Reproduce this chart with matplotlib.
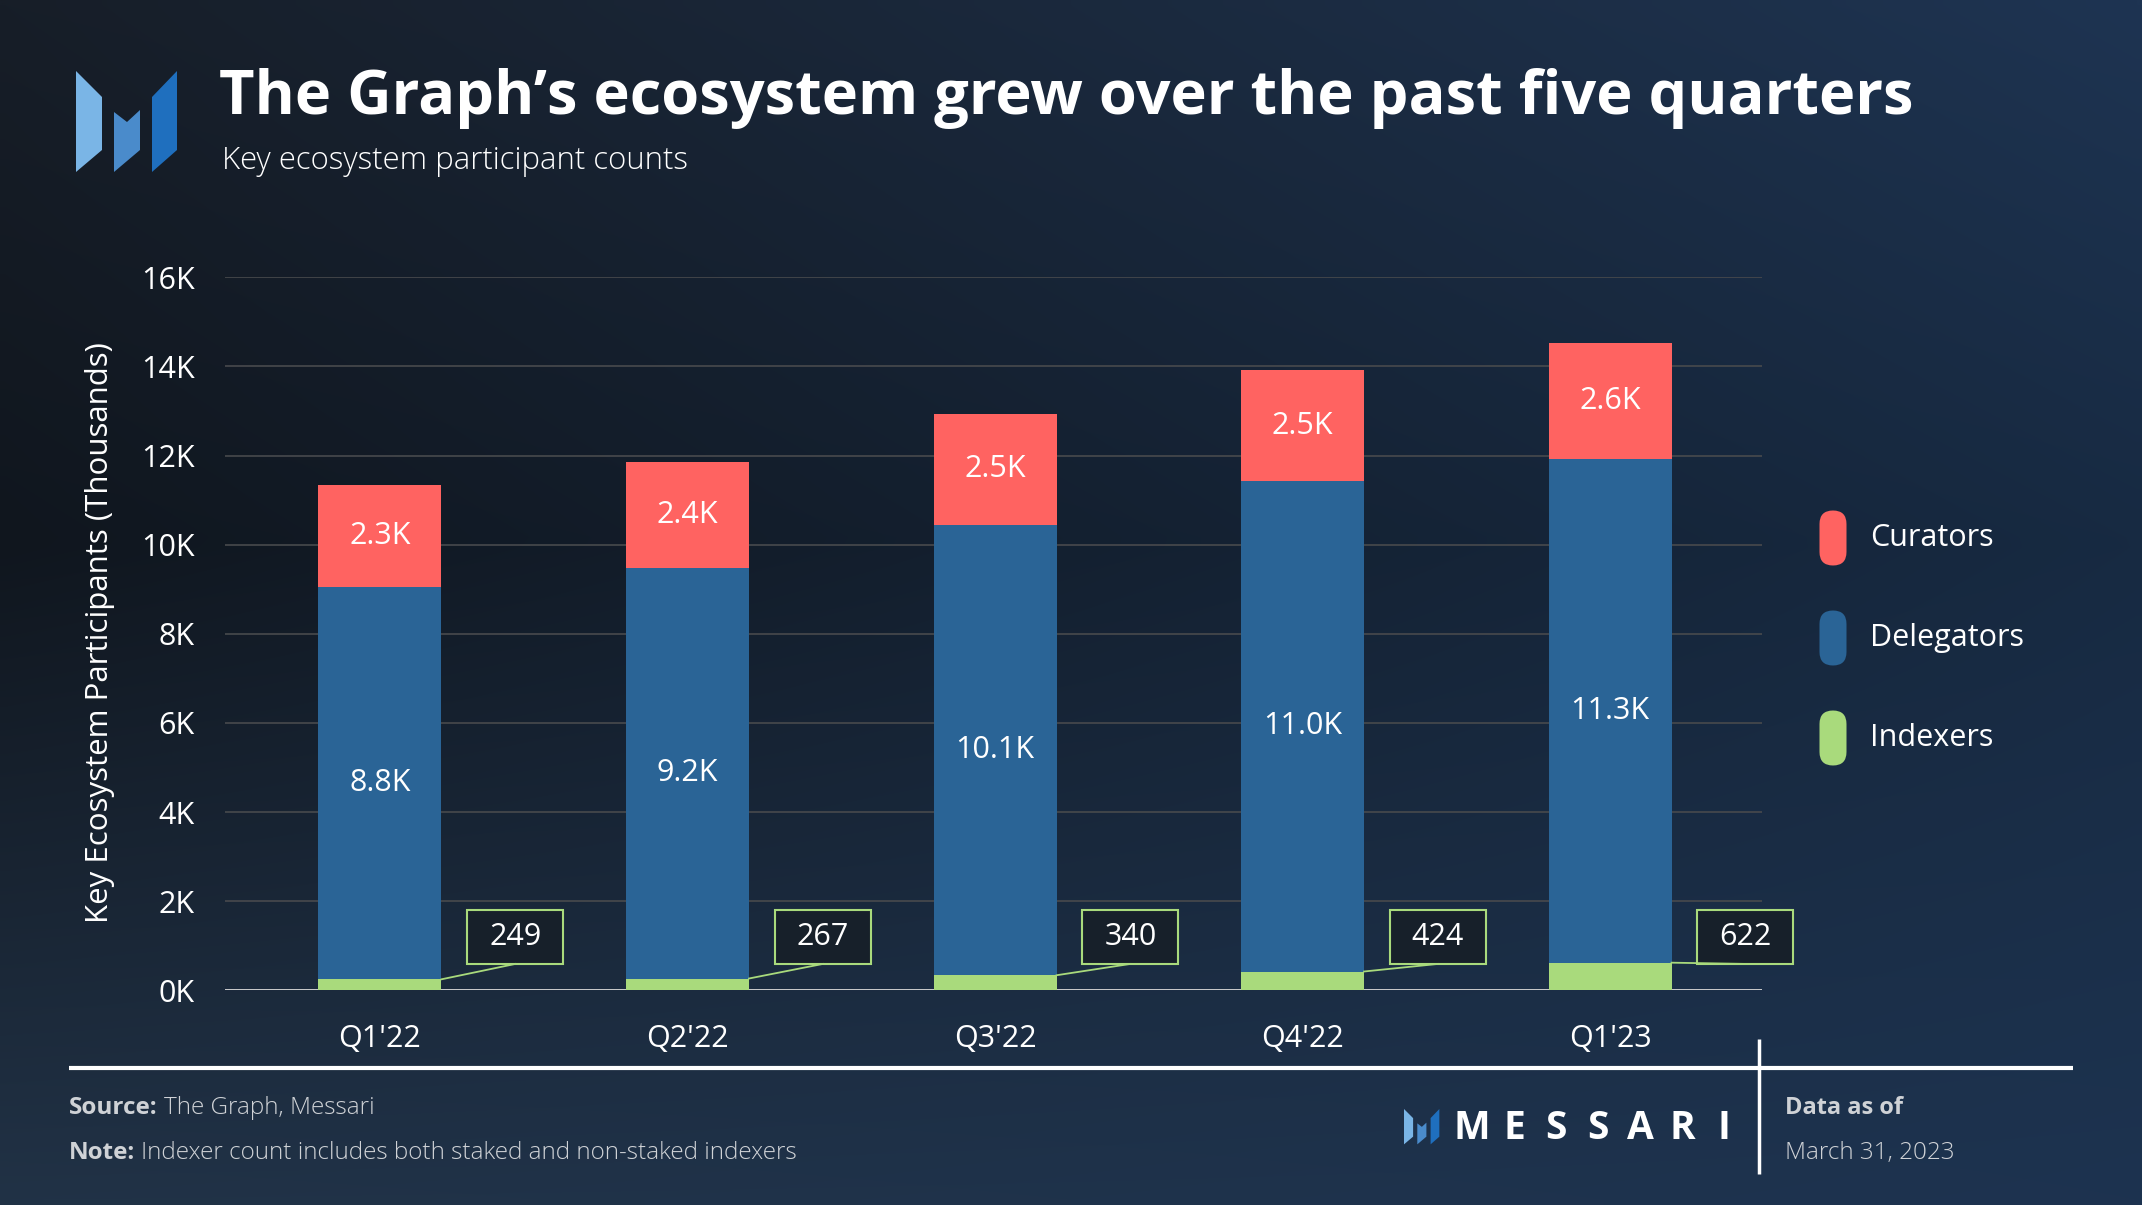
import matplotlib
matplotlib.use("Agg")
import matplotlib.pyplot as plt
import numpy as np
from matplotlib.patches import Polygon, Rectangle, FancyBboxPatch
from matplotlib.colors import to_rgb

# data
quarters = ["Q1'22", "Q2'22", "Q3'22", "Q4'22", "Q1'23"]
indexers = [249, 267, 340, 424, 622]
delegators = [8800, 9200, 10100, 11000, 11300]
curators = [2300, 2400, 2500, 2500, 2600]
yticks = [0, 2000, 4000, 6000, 8000, 10000, 12000, 14000, 16000]
series_names = ["Curators", "Delegators", "Indexers"]

RED = "#ff6361"
BLUE = "#2a6496"
GREEN = "#a9da7c"
FONT = "Open Sans"

W, H = 2142, 1205
fig = plt.figure(figsize=(W / 100, H / 100), dpi=100)

# background gradient
bg = fig.add_axes([0, 0, 1, 1], zorder=-10)
left_col = [to_rgb(c) for c in ["#171e28", "#10161e", "#213246"]]
right_col = [to_rgb(c) for c in ["#1e3452", "#172a42", "#1d3350"]]
ystops = [0, 0.45, 1]
ny, nx = 120, 200
yy = np.linspace(0, 1, ny)
img = np.zeros((ny, nx, 3))
for ch in range(3):
    lc = np.interp(yy, ystops, [c[ch] for c in left_col])
    rc = np.interp(yy, ystops, [c[ch] for c in right_col])
    t = np.linspace(0, 1, nx)
    img[:, :, ch] = lc[:, None] * (1 - t[None, :]) + rc[:, None] * t[None, :]
bg.imshow(img, aspect="auto", extent=[0, 1, 1, 0], interpolation="bilinear")
bg.set_xlim(0, 1)
bg.set_ylim(1, 0)
bg.axis("off")

# main chart
ax = fig.add_axes([225 / W, 1 - 990.4 / H, 1537 / W, 713.1 / H])
ax.patch.set_alpha(0)
x = np.arange(len(quarters))
ind = np.array(indexers)
dele = np.array(delegators)
cur = np.array(curators)
bw = 0.4
ax.bar(x, ind, width=bw, color=GREEN, zorder=3)
ax.bar(x, dele, width=bw, bottom=ind, color=BLUE, zorder=3)
ax.bar(x, cur, width=bw, bottom=ind + dele, color=RED, zorder=3)

for i in range(len(x)):
    ax.text(x[i], ind[i] + dele[i] / 2, f"{dele[i] / 1000:.1f}K", ha="center", va="center",
            color="white", fontsize=22, family=FONT, zorder=5)
    ax.text(x[i], ind[i] + dele[i] + cur[i] / 2, f"{cur[i] / 1000:.1f}K", ha="center", va="center",
            color="white", fontsize=22, family=FONT, zorder=5)
    # indexer call-out box
    bx, by = x[i] + 0.44, 1200
    ax.add_patch(Rectangle((bx - 0.156, by - 606), 0.312, 1212, fc="#17202a", ec=GREEN,
                           lw=1.5, zorder=4, clip_on=False))
    ax.plot([x[i] + bw / 2, bx], [ind[i], by - 606], color=GREEN, lw=1.3, zorder=4, clip_on=False)
    ax.text(bx, by, str(ind[i]), ha="center", va="center", color="white", fontsize=22,
            family=FONT, zorder=5, clip_on=False)

ax.set_xlim(-0.504, 4.494)
ax.set_ylim(0, 16000)
ax.set_yticks(yticks)
ax.set_yticklabels([f"{v // 1000}K" for v in yticks])
ax.set_xticks(x)
ax.set_xticklabels(quarters)
ax.tick_params(axis="both", length=0, colors="white", labelsize=22)
ax.tick_params(axis="y", pad=22)
ax.tick_params(axis="x", pad=24)
for lab in ax.get_xticklabels() + ax.get_yticklabels():
    lab.set_family(FONT)
ax.yaxis.grid(True, color="#484a4d", lw=1.2)
ax.set_axisbelow(True)
for s in ax.spines.values():
    s.set_visible(False)
ax.axhline(0, color="#d8d8d8", lw=2, zorder=2)

# overlay in pixel coordinates
ov = fig.add_axes([0, 0, 1, 1], zorder=10)
ov.set_xlim(0, W)
ov.set_ylim(H, 0)
ov.axis("off")
ov.patch.set_alpha(0)

renderer = fig.canvas.get_renderer()


def fit(t, target):
    bb = t.get_window_extent(renderer)
    t.set_fontsize(t.get_fontsize() * target / bb.width)


def width_of(t):
    return t.get_window_extent(renderer).width


# logo
def logo(ox, oy, s):
    pieces = [
        ([(76, 71), (102, 97), (102, 150), (76, 172)], "#7ab5e6"),
        ([(114, 112), (127, 122), (140, 110), (140, 150), (114, 172)], "#4a8bcb"),
        ([(152, 97), (177, 71), (177, 150), (152, 172)], "#1f6fbe"),
    ]
    for pts, col in pieces:
        p = [(ox + (px - 76) * s, oy + (py - 71) * s) for px, py in pts]
        ov.add_patch(Polygon(p, closed=True, fc=col, ec="none"))


logo(76, 71, 1.0)

title = ov.text(219, 114, "The Graph\u2019s ecosystem grew over the past five quarters",
                color="white", fontsize=44, weight="bold", family=FONT, va="baseline")
fit(title, 1696)
sub = ov.text(222, 169, "Key ecosystem participant counts", color="white", fontsize=22,
              weight="light", family=FONT, va="baseline")
fit(sub, 466)

ylab = ov.text(100, 633, "Key Ecosystem Participants (Thousands)", color="white", fontsize=22,
               family=FONT, rotation=90, ha="center", va="center")
bb = ylab.get_window_extent(renderer)
ylab.set_fontsize(ylab.get_fontsize() * 582 / bb.height)

# legend
for name, col, cy in zip(series_names, [RED, BLUE, GREEN], [538, 638, 738]):
    ov.add_patch(FancyBboxPatch((1833 - 13.5, cy - 27.5), 27, 55,
                                boxstyle="round,pad=0,rounding_size=13.5", fc=col, ec="none"))
    ov.text(1870, cy, name, color="white", fontsize=22, family=FONT, va="center")

# footer
ov.plot([69, 2073], [1068, 1068], color="white", lw=3, solid_capstyle="butt")
ov.plot([1759, 1759], [1039, 1174], color="white", lw=2.5, solid_capstyle="butt")

GREY = "#cfd2d6"
FS = 17.5
t1 = ov.text(69, 1114, "Source:", color=GREY, fontsize=FS, weight="bold", family=FONT, va="baseline")
t2 = ov.text(69 + width_of(t1) + 6, 1114, "The Graph, Messari", color=GREY, fontsize=FS,
             weight="light", family=FONT, va="baseline")
t3 = ov.text(69, 1159, "Note:", color=GREY, fontsize=FS, weight="bold", family=FONT, va="baseline")
t4 = ov.text(69 + width_of(t3) + 6, 1159, "Indexer count includes both staked and non-staked indexers",
             color=GREY, fontsize=FS, weight="light", family=FONT, va="baseline")

d1 = ov.text(1785, 1114, "Data as of", color=GREY, fontsize=18, weight="bold", family=FONT, va="baseline")
fit(d1, 118)
d2 = ov.text(1785, 1159, "March 31, 2023", color=GREY, fontsize=18, weight="light", family=FONT,
             va="baseline")
fit(d2, 170)

logo(1404, 1109, 0.35)
for k, ch in enumerate("MESSARI"):
    ov.text(1472 + k * 42, 1139, ch, color="white", fontsize=28, weight="bold", family=FONT,
            ha="center", va="baseline")

fig.savefig("out.png", dpi=100)
